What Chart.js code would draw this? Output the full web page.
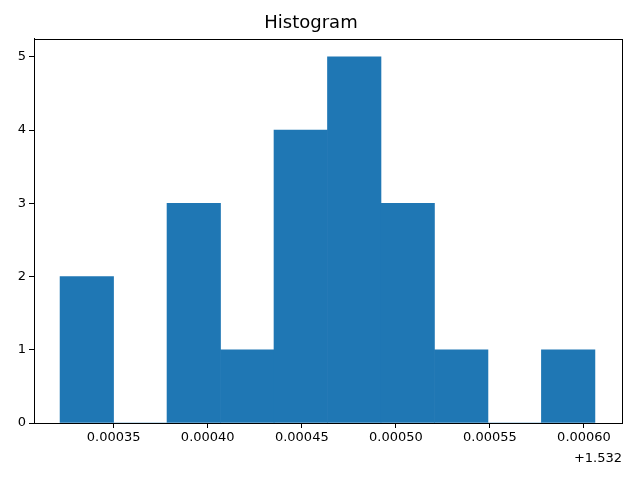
<!DOCTYPE html>
<html>
<head>
<meta charset="utf-8">
<script src="https://cdn.jsdelivr.net/npm/chart.js@4/dist/chart.umd.min.js"></script>
<style>
  html, body { margin: 0; padding: 0; background: #fff; }
  #wrap { width: 640px; height: 480px; }
</style>
</head>
<body>
<div id="wrap"><canvas id="chart"></canvas></div>
<script>
// bin centres (offset from 1.532) and counts
var binCenters = [0.00033572, 0.00036415, 0.00039258, 0.00042101, 0.00044944,
                  0.00047787, 0.00050630, 0.00053473, 0.00056316, 0.00059159];
var counts = [2, 0, 3, 1, 4, 5, 3, 1, 0, 1];
var xTicks = [0.00035, 0.00040, 0.00045, 0.00050, 0.00055, 0.00060];
var yTicks = [0, 1, 2, 3, 4, 5];
var offsetLabel = "+1.532";

Chart.defaults.font.family = "'DejaVu Sans', sans-serif";
Chart.defaults.color = "#000";

// box around the plot area, like matplotlib spines
var boxPlugin = {
    id: "box",
    afterDraw: function(chart) {
        var a = chart.chartArea, c = chart.ctx;
        c.save();
        c.strokeStyle = "#000";
        c.lineWidth = 1;
        c.strokeRect(Math.round(a.left) + 0.5, Math.round(a.top) + 0.5,
                     Math.round(a.right - a.left), Math.round(a.bottom - a.top));
        c.restore();
    }
};

var datos = binCenters.map(function(x, i) { return { x: x, y: counts[i] }; });

new Chart(document.getElementById("chart"), {
    type: "bar",
    data: {
        datasets: [{
            data: datos,
            backgroundColor: "#1f77b4",
            borderWidth: 0,
            barPercentage: 1,
            categoryPercentage: 1
        }]
    },
    options: {
        responsive: true,
        maintainAspectRatio: false,
        animation: false,
        layout: { padding: { left: 0, right: 18, top: 0, bottom: 10 } },
        plugins: {
            legend: { display: false },
            tooltip: { enabled: false },
            title: {
                display: true,
                text: "Histogram",
                font: { size: 18, weight: "normal" },
                padding: { top: 13, bottom: 4 }
            }
        },
        scales: {
            x: {
                type: "linear",
                offset: false,
                min: 0.00030765,
                max: 0.0006202,
                afterFit: function(s) { s.height = 47; },
                afterBuildTicks: function(s) {
                    s.ticks = xTicks.map(function(v) { return { value: v }; });
                },
                ticks: {
                    font: { size: 13 },
                    maxRotation: 0,
                    padding: 2,
                    callback: function(v) { return v.toFixed(5); }
                },
                grid: { offset: false, drawOnChartArea: false, tickLength: 5, color: "#000" },
                border: { color: "#000" },
                title: {
                    display: true,
                    text: offsetLabel,
                    align: "end",
                    font: { size: 13 },
                    padding: { top: 0 }
                }
            },
            y: {
                min: 0,
                max: 5.25,
                afterFit: function(s) { s.width = 34; },
                afterBuildTicks: function(s) {
                    s.ticks = yTicks.map(function(v) { return { value: v }; });
                },
                ticks: { font: { size: 13 }, padding: 3 },
                grid: { drawOnChartArea: false, tickLength: 5, color: "#000" },
                border: { color: "#000" }
            }
        }
    },
    plugins: [boxPlugin]
});
</script>
</body>
</html>
